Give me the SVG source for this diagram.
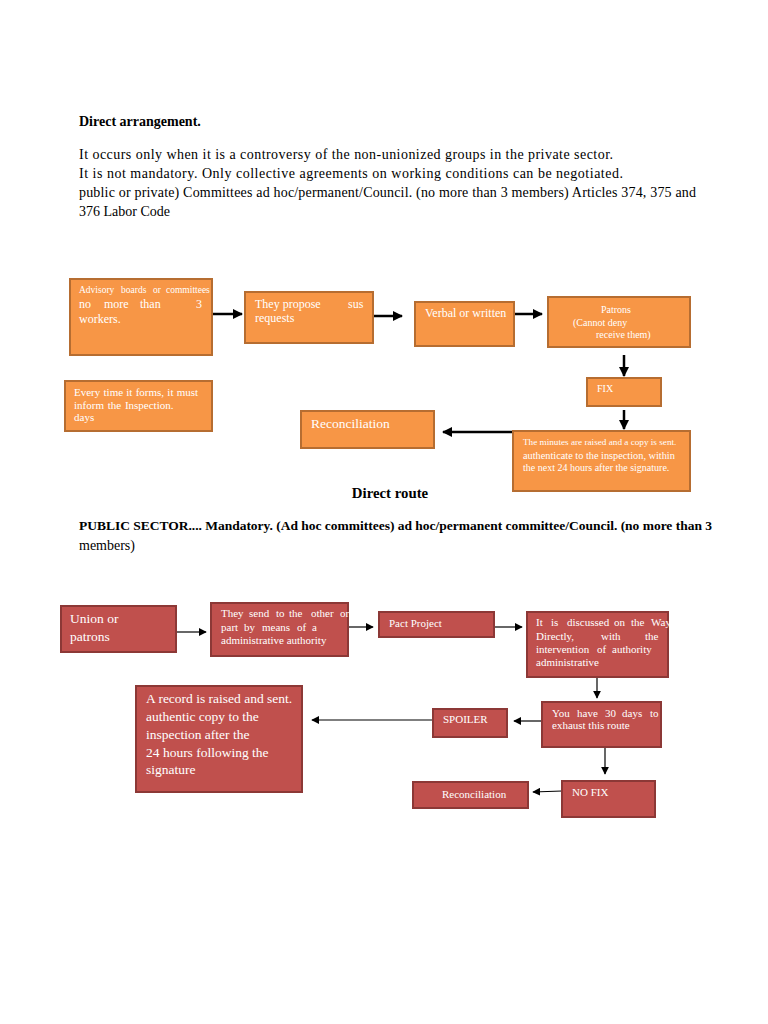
<svg xmlns="http://www.w3.org/2000/svg" width="768" height="1024" viewBox="0 0 768 1024">
<defs>
<style>
.t{font-family:"Liberation Serif","Times New Roman",serif;fill:#000}
.b{font-weight:bold}
.o{fill:#F79646;stroke:#B66D31;stroke-width:2}
.r{fill:#C0504D;stroke:#8C3836;stroke-width:2}
.w{font-family:"Liberation Serif","Times New Roman",serif;fill:#fff}
.k{stroke:#000;stroke-width:2.5;fill:none}
.n{stroke:#000;stroke-width:1.2;fill:none}
</style>
<marker id="ah" viewBox="0 0 10 10" refX="9" refY="5" markerWidth="4" markerHeight="4" orient="auto"><path d="M0,0L10,5L0,10z" fill="#000"/></marker>
<marker id="as" viewBox="0 0 10 10" refX="9" refY="5" markerWidth="8" markerHeight="8" markerUnits="userSpaceOnUse" orient="auto"><path d="M0,0L10,5L0,10z" fill="#000"/></marker>
</defs>
<rect width="768" height="1024" fill="#fff"/>
<g id="header">
<text class="t b" x="79" y="126" font-size="14">Direct arrangement.</text>
<text class="t" x="79" y="159" font-size="14" textLength="534" lengthAdjust="spacing">It occurs only when it is a controversy of the non-unionized groups in the private sector.</text>
<text class="t" x="79" y="178" font-size="14" textLength="544" lengthAdjust="spacing">It is not mandatory. Only collective agreements on working conditions can be negotiated.</text>
<text class="t" x="79" y="197" font-size="14" textLength="617" lengthAdjust="spacing">public or private) Committees ad hoc/permanent/Council. (no more than 3 members) Articles 374, 375 and</text>
<text class="t" x="79" y="216" font-size="14">376 Labor Code</text>
</g>
<g id="connectors">
<line class="k" x1="212" y1="314" x2="242" y2="314" marker-end="url(#ah)"/>
<line class="k" x1="373" y1="316" x2="402" y2="316" marker-end="url(#ah)"/>
<line class="k" x1="514" y1="314" x2="542" y2="314" marker-end="url(#ah)"/>
<line class="k" x1="624" y1="355" x2="624" y2="376" marker-end="url(#ah)"/>
<line class="k" x1="624" y1="410" x2="624" y2="429" marker-end="url(#ah)"/>
<line class="k" x1="513" y1="432" x2="443" y2="432" marker-end="url(#ah)"/>
<line class="n" x1="176" y1="632" x2="206" y2="632" marker-end="url(#as)"/>
<line class="n" x1="348" y1="627" x2="373" y2="627" marker-end="url(#as)"/>
<line class="n" x1="494" y1="627" x2="522" y2="627" marker-end="url(#as)"/>
<line class="n" x1="597" y1="677" x2="597" y2="698" marker-end="url(#as)"/>
<line class="n" x1="542" y1="721" x2="514" y2="721" marker-end="url(#as)"/>
<line class="n" x1="433" y1="720" x2="312" y2="720" marker-end="url(#as)"/>
<line class="n" x1="605" y1="747" x2="605" y2="774" marker-end="url(#as)"/>
<line class="n" x1="562" y1="791" x2="533" y2="792" marker-end="url(#as)"/>
</g>
<g id="advisory">
<rect class="o" x="70" y="279" width="142" height="76"/>
<text class="w" y="293" font-size="9.5"><tspan x="79">Advisory</tspan><tspan x="121">boards</tspan><tspan x="153">or</tspan><tspan x="166">committees</tspan></text>
<text class="w" y="308" font-size="12"><tspan x="79">no</tspan><tspan x="104">more</tspan><tspan x="140">than</tspan><tspan x="196">3</tspan></text>
<text class="w" x="79" y="323" font-size="12">workers.</text>
</g>
<g id="propose">
<rect class="o" x="245" y="292" width="128" height="51"/>
<text class="w" y="308" font-size="12"><tspan x="255">They propose</tspan><tspan x="348">sus</tspan></text>
<text class="w" x="255" y="322" font-size="12">requests</text>
</g>
<g id="verbal">
<rect class="o" x="415" y="302" width="99" height="44"/>
<text class="w" x="425" y="317" font-size="12">Verbal or written</text>
</g>
<g id="patrons">
<rect class="o" x="548" y="297" width="142" height="50"/>
<text class="w" x="616" y="313" font-size="10" text-anchor="middle">Patrons</text>
<text class="w" x="573" y="326" font-size="10">(Cannot deny</text>
<text class="w" x="596" y="338" font-size="10">receive them)</text>
</g>
<g id="fix">
<rect class="o" x="587" y="378" width="74" height="28"/>
<text class="w" x="597" y="392" font-size="10">FIX</text>
</g>
<g id="minutes">
<rect class="o" x="513" y="431" width="177" height="60"/>
<text class="w" x="523" y="445" font-size="9.2">The minutes are raised and a copy is sent.</text>
<text class="w" x="523" y="459" font-size="10.3">authenticate to the inspection, within</text>
<text class="w" x="523" y="471" font-size="10">the next 24 hours after the signature.</text>
</g>
<g id="everytime">
<rect class="o" x="65" y="381" width="147" height="50"/>
<text class="w" x="74" y="396" font-size="11" word-spacing="0.5">Every time it forms, it must</text>
<text class="w" x="74" y="409" font-size="11" word-spacing="1">inform the Inspection.</text>
<text class="w" x="74" y="421" font-size="11">days</text>
</g>
<g id="reconciliation1">
<rect class="o" x="301" y="411" width="133" height="37"/>
<text class="w" x="311" y="428" font-size="13.5">Reconciliation</text>
</g>
<g id="midtext">
<text class="t b" x="390" y="498" font-size="14.8" text-anchor="middle">Direct route</text>
<text class="t b" x="79" y="530" font-size="13.5" textLength="633" lengthAdjust="spacing">PUBLIC SECTOR.... Mandatory. (Ad hoc committees) ad hoc/permanent committee/Council. (no more than 3</text>
<text class="t" x="79" y="550" font-size="14">members)</text>
</g>
<g id="union">
<rect class="r" x="61" y="606" width="115" height="46"/>
<text class="w" x="70" y="623" font-size="13.5">Union or</text>
<text class="w" x="70" y="641" font-size="13.5">patrons</text>
</g>
<g id="send">
<rect class="r" x="211" y="603" width="137" height="53"/>
<text class="w" y="617" font-size="11"><tspan x="221">They</tspan><tspan x="249">send</tspan><tspan x="276">to</tspan><tspan x="289">the</tspan><tspan x="311">other</tspan><tspan x="340">or</tspan></text>
<text class="w" y="631" font-size="11"><tspan x="221">part</tspan><tspan x="244">by</tspan><tspan x="262">means</tspan><tspan x="297">of</tspan><tspan x="312">a</tspan></text>
<text class="w" x="221" y="644" font-size="11">administrative authority</text>
</g>
<g id="pact">
<rect class="r" x="379" y="612" width="115" height="25"/>
<text class="w" x="389" y="627" font-size="11">Pact Project</text>
</g>
<g id="discussed">
<rect class="r" x="527" y="612" width="141" height="65"/>
<text class="w" y="626" font-size="11"><tspan x="536">It</tspan><tspan x="551">is</tspan><tspan x="567">discussed</tspan><tspan x="614">on</tspan><tspan x="631">the</tspan><tspan x="651">Way</tspan></text>
<text class="w" y="640" font-size="11"><tspan x="536">Directly,</tspan><tspan x="601">with</tspan><tspan x="645">the</tspan></text>
<text class="w" y="653" font-size="11"><tspan x="536">intervention</tspan><tspan x="597">of</tspan><tspan x="612">authority</tspan></text>
<text class="w" x="536" y="666" font-size="11">administrative</text>
</g>
<g id="thirty">
<rect class="r" x="542" y="702" width="119" height="45"/>
<text class="w" y="717" font-size="11"><tspan x="552">You</tspan><tspan x="577">have</tspan><tspan x="605">30</tspan><tspan x="622">days</tspan><tspan x="650">to</tspan></text>
<text class="w" x="552" y="729" font-size="11">exhaust this route</text>
</g>
<g id="spoiler">
<rect class="r" x="433" y="709" width="74" height="28"/>
<text class="w" x="443" y="723" font-size="11">SPOILER</text>
</g>
<g id="record">
<rect class="r" x="136" y="686" width="166" height="106"/>
<text class="w" x="146" y="703" font-size="13.5">A record is raised and sent.</text>
<text class="w" x="146" y="721" font-size="13.5">authentic copy to the</text>
<text class="w" x="146" y="739" font-size="13.5">inspection after the</text>
<text class="w" x="146" y="757" font-size="13.5">24 hours following the</text>
<text class="w" x="146" y="774" font-size="13.5">signature</text>
</g>
<g id="nofix">
<rect class="r" x="562" y="781" width="93" height="36"/>
<text class="w" x="572" y="796" font-size="11">NO FIX</text>
</g>
<g id="reconciliation2">
<rect class="r" x="413" y="782" width="115" height="26"/>
<text class="w" x="442" y="798" font-size="11">Reconciliation</text>
</g>
</svg>
